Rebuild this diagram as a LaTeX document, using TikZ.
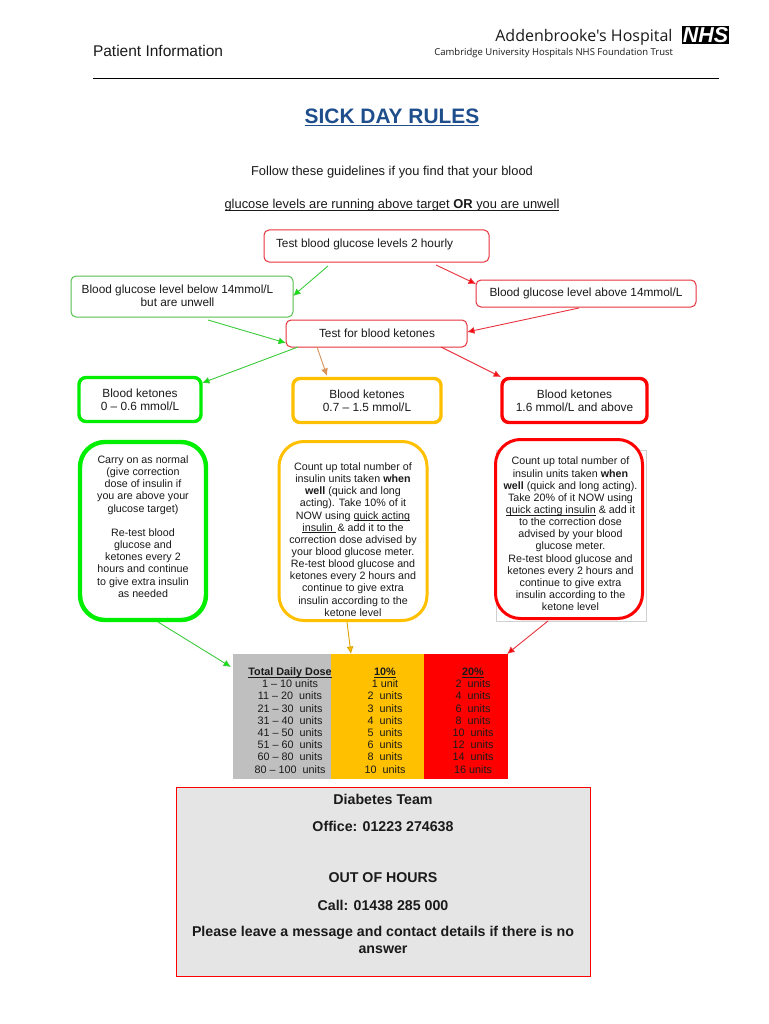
\documentclass[tikz,border=0pt]{standalone}
\usepackage{fontspec}
\setmainfont{Liberation Sans}
\newfontfamily\logofont{Open Sans}
\newcommand{\fs}[2]{\fontsize{#1}{#2}\selectfont}
\newcommand{\ulx}[1]{\underline{\smash{#1}}}
\definecolor{gr}{HTML}{00EE00}
\definecolor{am}{HTML}{FFC000}
\definecolor{rd}{HTML}{FF0000}
\definecolor{thinred}{HTML}{E8323C}
\definecolor{thingreen}{HTML}{55C050}
\definecolor{linegreen}{HTML}{3CCB3C}
\definecolor{tan}{HTML}{D9935A}
\definecolor{tablegrey}{HTML}{BFBFBF}
\definecolor{ink}{HTML}{1A1A1A}
\definecolor{titleblue}{HTML}{1F4E8C}
\usetikzlibrary{arrows.meta}
\tikzset{
  x=1pt,y=-1pt,
  every node/.style={text=ink,inner sep=0pt,outer sep=0pt},
  boxthin/.style={draw,rounded corners=5pt,line width=1pt,fill=white},
  boxthick/.style={draw,rounded corners=7pt,line width=3.4pt,fill=white},
  boxbig/.style={draw,rounded corners=25pt,fill=white},
  flow/.style={line width=0.9pt},
  redflow/.style={flow,draw=thinred,-{Latex[length=7.5pt,width=7pt,fill=rd]}},
  greenflow/.style={flow,draw=linegreen,-{Latex[length=7.5pt,width=7pt,fill=gr]}},
  label/.style={font=\fs{11.85}{13.2},align=center},
  big/.style={font=\fs{10.7}{12.15},align=center},
  tab/.style={font=\fs{10.8}{12.2},align=center,anchor=north},
  team/.style={font=\bfseries\fs{14.2}{17},align=center},
}
\begin{document}
\begin{tikzpicture}
\useasboundingbox (0,0) rectangle (768,1024);
\fill[white] (0,0) rectangle (768,1024);

% header
\node[anchor=west,font=\fs{15.5}{16}] (patient) at (93,51) {Patient Information};
\node[anchor=east,font=\logofont\fs{16}{18}] (hospital) at (672.5,37) {Addenbrooke's Hospital};
\node[anchor=east,font=\logofont\fs{9.5}{10}] (trust) at (673,53) {Cambridge University Hospitals NHS Foundation Trust};
\node[fill=black,minimum width=47pt,minimum height=18.5pt,font=\bfseries\itshape\fs{21.5}{18},text=white] (nhs) at (705.5,35) {NHS};
\coordinate (ruleL) at (93,78);
\coordinate (ruleR) at (719,78);
\draw[line width=0.9pt,black] (ruleL) -- (ruleR);

% title
\node[font=\bfseries\fs{20.9}{22},text=titleblue] (title) at (392,117) {\underline{SICK DAY RULES}};
\node[font=\fs{12.9}{14}] (intro1) at (392,172.5) {Follow these guidelines if you find that your blood};
\node[font=\fs{12.9}{14}] (intro2) at (392,210) {\ulx{glucose levels are running above target \textbf{OR} you are unwell}};

% top boxes
\node[boxthin,draw=thinred,minimum width=225pt,minimum height=32pt] (test) at (376.5,246) {};
\node[label,anchor=west] (testT) at (276,244) {Test blood glucose levels 2 hourly};
\node[boxthin,draw=thingreen,minimum width=222pt,minimum height=41pt] (below) at (182,296.5) {};
\node[label] (belowT) at (177.5,296) {Blood glucose level below 14mmol/L\\but are unwell\hspace{32pt}};
\node[boxthin,draw=thinred,minimum width=220pt,minimum height=27pt] (above) at (586,293.5) {};
\node[label] (aboveT) at (586,293) {Blood glucose level above 14mmol/L};
\node[boxthin,draw=thinred,minimum width=181pt,minimum height=27pt] (ket) at (376.5,333.5) {};
\node[label] (ketT) at (377,333) {Test for blood ketones};

% ketone level boxes
\node[boxthick,draw=gr,minimum width=122pt,minimum height=44pt] (k1) at (140,399.5) {};
\node[label] (k1T) at (140,400) {Blood ketones\\0 – 0.6 mmol/L};
\node[boxthick,draw=am,minimum width=148pt,minimum height=44pt] (k2) at (367,400.5) {};
\node[label] (k2T) at (367,400.5) {Blood ketones\\0.7 – 1.5 mmol/L};
\node[boxthick,draw=rd,minimum width=145pt,minimum height=44pt] (k3) at (574.5,400.5) {};
\node[label] (k3T) at (574.5,400.5) {Blood ketones\\1.6 mmol/L and above};

% advice boxes
\draw[draw=black!18,line width=0.6pt] (496,450) rectangle (646,621);
\node[boxbig,draw=gr,line width=4.4pt,minimum width=126pt,minimum height=178pt] (a1) at (143,531) {};
\node[big] (a1T) at (143,526.5) {Carry on as normal\\(give correction\\dose of insulin if\\you are above your\\glucose target)\\[12.15pt]Re-test blood\\glucose and\\ketones every 2\\hours and continue\\to give extra insulin\\as needed};
\node[boxbig,draw=am,line width=3pt,minimum width=148pt,minimum height=179pt] (a2) at (353,531) {};
\node[big] (a2T) at (353,539.5) {Count up total number of\\insulin units taken \textbf{when}\\\textbf{well} (quick and long\\acting). Take 10\% of it\\NOW using \ulx{quick acting}\\\ulx{insulin }\,\&~add it to the\\correction dose advised by\\your blood glucose meter.\\Re-test blood glucose and\\ketones every 2 hours and\\continue to give extra\\insulin according to the\\ketone level};
\node[boxbig,draw=rd,line width=3pt,minimum width=147pt,minimum height=179pt] (a3) at (569,529) {};
\node[big] (a3T) at (570.5,534) {Count up total number of\\insulin units taken \textbf{when}\\\textbf{well} (quick and long acting).\\Take 20\% of it NOW using\\\ulx{quick acting insulin} \& add it\\to the correction dose\\advised by your blood\\glucose meter.\\Re-test blood glucose and\\ketones every 2 hours and\\continue to give extra\\insulin according to the\\ketone level};

% table
\fill[tablegrey] (233,654) rectangle (331,779);
\fill[am] (331,654) rectangle (424,779);
\fill[rd] (424,654) rectangle (508,779);
\node[minimum width=275pt,minimum height=125pt] (table) at (370.5,716.5) {};
\node[tab] (t1) at (290,675.5) {\textbf{\ulx{Total Daily Dose}}\\1 – 10 units\\11 – 20~ units\\21 – 30~ units\\31 – 40~ units\\41 – 50~ units\\51 – 60~ units\\60 – 80~ units\\80 – 100~ units};
\node[tab] (t2) at (385,675.5) {\textbf{\ulx{10\%}}\\1 unit\\2~ units\\3~ units\\4~ units\\5~ units\\6~ units\\8~ units\\10~ units};
\node[tab] (t3) at (473,675.5) {\textbf{\ulx{20\%}}\\2~ units\\4~ units\\6~ units\\8~ units\\10~ units\\12~ units\\14~ units\\16 units};

% team box
\node[draw=rd,line width=0.8pt,fill=black!10,minimum width=414pt,minimum height=189pt] (teambox) at (383,881.5) {};
\node[team] (tm1) at (383,799) {Diabetes Team};
\node[team] (tm2) at (383,826) {Office: 01223 274638};
\node[team] (tm3) at (383,878) {OUT OF HOURS};
\node[team] (tm4) at (383,905) {Call: 01438 285 000};
\node[team] (tm5) at (383,940) {Please leave a message and contact details if there is no\\answer};

% connectors
\coordinate (s1) at (328,266);
\coordinate (e1) at (293,296);
\coordinate (s2) at (436,265);
\coordinate (e2) at (476,284);
\coordinate (s3) at (208,320);
\coordinate (e3) at (286,343);
\coordinate (s4) at (579,308);
\coordinate (e4) at (467,332);
\coordinate (s5) at (298,347);
\coordinate (e5) at (202,383);
\coordinate (s6) at (317,347);
\coordinate (e6) at (327,376);
\coordinate (s7) at (441,347);
\coordinate (e7) at (501,377);
\coordinate (s8) at (158,622);
\coordinate (e8) at (231,667);
\coordinate (s9) at (347,622);
\coordinate (e9) at (351,654);
\coordinate (s10) at (548,621);
\coordinate (e10) at (507,654);
\draw[greenflow] (s1) -- (e1);
\draw[redflow] (s2) -- (e2);
\draw[greenflow] (s3) -- (e3);
\draw[redflow] (s4) -- (e4);
\draw[greenflow] (s5) -- (e5);
\draw[flow,draw=tan,-{Latex[length=7.5pt,width=7pt,fill=tan]}] (s6) -- (e6);
\draw[redflow] (s7) -- (e7);
\draw[greenflow] (s8) -- (e8);
\draw[flow,draw=am!85!black,-{Latex[length=7.5pt,width=7pt,fill=am]}] (s9) -- (e9);
\draw[redflow] (s10) -- (e10);
\end{tikzpicture}
\end{document}
